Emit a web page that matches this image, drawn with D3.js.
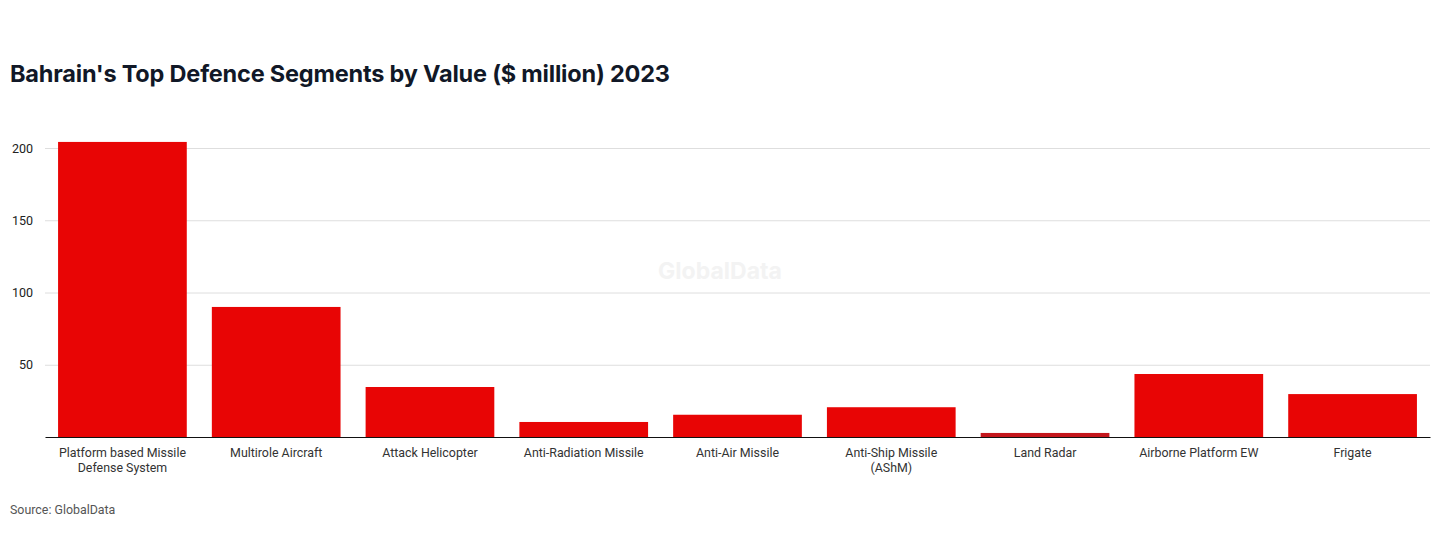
<!DOCTYPE html>
<html>
<head>
<meta charset="utf-8">
<script src="https://cdn.jsdelivr.net/npm/d3@7"></script>
<style>
  body { margin: 0; background: #fff; font-family: Roboto, "Noto Sans", sans-serif; }
</style>
</head>
<body>
<div id="chart"></div>
<script>
// chart data
const categories = ["Platform based Missile|Defense System", "Multirole Aircraft", "Attack Helicopter",
    "Anti-Radiation Missile", "Anti-Air Missile", "Anti-Ship Missile|(AShM)", "Land Radar",
    "Airborne Platform EW", "Frigate"];
const values = [204.2, 90, 34.6, 10.4, 15.4, 20.6, 2.8, 43.6, 29.7];
const yTicks = [50, 100, 150, 200];

const width = 1440, height = 543;
const margin = {top: 148, right: 10, bottom: 106, left: 45};
const chartWidth = width - margin.left - margin.right;
const chartHeight = height - margin.top - margin.bottom;

const svg = d3.select("#chart").append("svg")
    .attr("width", width)
    .attr("height", height);

svg.append("text")
    .attr("x", 10).attr("y", 82)
    .attr("font-family", "Inter, Roboto, sans-serif")
    .attr("font-weight", 700)
    .attr("font-size", 23.5)
    .attr("fill", "#111827")
    .attr("letter-spacing", -0.2)
    .text("Bahrain's Top Defence Segments by Value ($ million) 2023");

const g = svg.append("g")
    .attr("transform", `translate(${margin.left}, ${margin.top})`);

var x = d3.scaleBand()
    .domain(categories)
    .range([0, chartWidth])
    .paddingInner(0.163)
    .paddingOuter(0.085);

var y = d3.scaleLinear()
    .domain([0, 200])
    .range([chartHeight, 0]);

//gridlines + tick labels
const yAxis = g.append("g")
    .call(d3.axisLeft(y).tickValues(yTicks).tickSize(-chartWidth).tickPadding(12));
yAxis.select(".domain").remove();
yAxis.selectAll(".tick line").attr("stroke", "#dedede");
yAxis.selectAll(".tick text")
    .attr("font-family", "Roboto, sans-serif")
    .attr("font-size", 12.5)
    .attr("fill", "#222");

//watermark
g.append("text")
    .attr("x", 675).attr("y", 131)
    .attr("text-anchor", "middle")
    .attr("font-family", "Inter, sans-serif")
    .attr("font-weight", 700)
    .attr("font-size", 23)
    .attr("fill", "#f3f3f3")
    .text("GlobalData");

g.append("g")
    .selectAll("rect")
    .data(values)
    .enter().append("rect")
    .attr("x", (d, i) => x(categories[i]))
    .attr("y", d => y(d))
    .attr("width", x.bandwidth())
    .attr("height", d => chartHeight - y(d))
    .attr("fill", (d, i) => categories[i] === "Land Radar" ? "#c4161c" : "#e80505");

//x axis
const xAxis = g.append("g")
    .attr("transform", `translate(0, ${chartHeight})`)
    .call(d3.axisBottom(x).tickSize(0).tickSizeOuter(0).tickFormat(""));
xAxis.select(".domain").attr("stroke", "#111").attr("stroke-width", 1.2);

xAxis.selectAll(".tick").each(function(d) {
    const t = d3.select(this).select("text")
        .attr("y", 0)
        .attr("dy", null)
        .attr("font-family", "Roboto, sans-serif")
        .attr("font-size", 12.4)
        .attr("fill", "#333");
    d.split("|").forEach((line, i) => {
        t.append("tspan").attr("x", 0).attr("y", 20 + i * 15).text(line);
    });
});

svg.append("text")
    .attr("x", 10).attr("y", 514)
    .attr("font-family", "Roboto, sans-serif")
    .attr("font-size", 12.4)
    .attr("fill", "#555")
    .text("Source: GlobalData");
</script>
</body>
</html>
